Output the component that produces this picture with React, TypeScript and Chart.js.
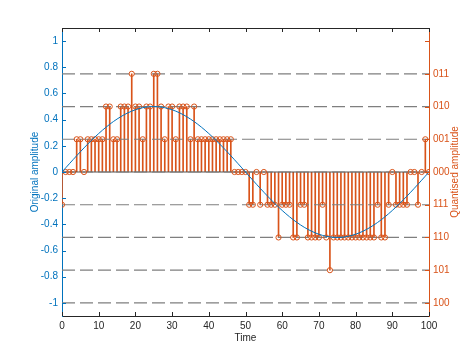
import { useEffect, useRef } from 'react';
import { Chart, registerables } from 'chart.js';

Chart.register(...registerables);

const FONT = "'Liberation Sans', Arial, Helvetica, sans-serif";
const BLUE = '#0072BD';
const ORANGE = '#D95319';
const DARK = '#262626';
const DASH = '#7f7f7f';

// sample index (time)
const times = Array.from({ length: 101 }, (_, i) => i);

// original (continuous) amplitude
const original = [
  0, 0.0314, 0.0627, 0.0937, 0.1243, 0.1545, 0.1841, 0.2129, 0.2409, 0.2679,
  0.2939, 0.3187, 0.3423, 0.3645, 0.3853, 0.4045, 0.4222, 0.4382, 0.4524, 0.4649,
  0.4755, 0.4843, 0.4911, 0.4961, 0.499, 0.5, 0.499, 0.4961, 0.4911, 0.4843,
  0.4755, 0.4649, 0.4524, 0.4382, 0.4222, 0.4045, 0.3853, 0.3645, 0.3423, 0.3187,
  0.2939, 0.2679, 0.2409, 0.2129, 0.1841, 0.1545, 0.1243, 0.0937, 0.0627, 0.0314,
  0, -0.0314, -0.0627, -0.0937, -0.1243, -0.1545, -0.1841, -0.2129, -0.2409, -0.2679,
  -0.2939, -0.3187, -0.3423, -0.3645, -0.3853, -0.4045, -0.4222, -0.4382, -0.4524, -0.4649,
  -0.4755, -0.4843, -0.4911, -0.4961, -0.499, -0.5, -0.499, -0.4961, -0.4911, -0.4843,
  -0.4755, -0.4649, -0.4524, -0.4382, -0.4222, -0.4045, -0.3853, -0.3645, -0.3423, -0.3187,
  -0.2939, -0.2679, -0.2409, -0.2129, -0.1841, -0.1545, -0.1243, -0.0937, -0.0627, -0.0314,
  0,
];

// quantised amplitude (stems)
const quantised = [
  -0.25, 0, 0, 0, 0.25, 0.25, 0, 0.25, 0.25, 0.25,
  0.25, 0.25, 0.5, 0.5, 0.25, 0.25, 0.5, 0.5, 0.5, 0.75,
  0.5, 0.5, 0.25, 0.5, 0.5, 0.75, 0.75, 0.5, 0.25, 0.5,
  0.5, 0.25, 0.5, 0.5, 0.5, 0.25, 0.5, 0.25, 0.25, 0.25,
  0.25, 0.25, 0.25, 0.25, 0.25, 0.25, 0.25, 0, 0, 0,
  0, -0.25, -0.25, 0, -0.25, 0, -0.25, -0.25, -0.25, -0.5,
  -0.25, -0.25, -0.25, -0.5, -0.5, -0.25, -0.25, -0.5, -0.5, -0.5,
  -0.5, -0.25, -0.5, -0.75, -0.5, -0.5, -0.5, -0.5, -0.5, -0.5,
  -0.5, -0.5, -0.5, -0.5, -0.5, -0.5, -0.25, -0.5, -0.5, -0.25,
  0, -0.25, -0.25, -0.25, -0.25, 0, 0, -0.25, 0, 0.25,
  0,
];

// dashed quantisation levels
const levels = [-1, -0.75, -0.5, -0.25, 0, 0.25, 0.5, 0.75];

const xTicks = [0, 10, 20, 30, 40, 50, 60, 70, 80, 90, 100];
const leftTicks = [-1, -0.8, -0.6, -0.4, -0.2, 0, 0.2, 0.4, 0.6, 0.8, 1];
const leftTickLabels = ['-1', '-0.8', '-0.6', '-0.4', '-0.2', '0', '0.2', '0.4', '0.6', '0.8', '1'];
const rightTicks = [-1, -0.75, -0.5, -0.25, 0, 0.25, 0.5, 0.75, 1];
const rightTickLabels = ['100', '101', '110', '111', '000', '001', '010', '011', ''];

const Y_MIN = -1.1;
const Y_MAX = 1.1;

const matlabPlugin = {
  id: 'matlabFrame',
  afterDraw(chart: any) {
    const { ctx, chartArea: a, scales } = chart;
    const r = (v: number) => Math.round(v) + 0.5;
    ctx.save();
    ctx.lineWidth = 1;
    // top border
    ctx.strokeStyle = DARK;
    ctx.beginPath();
    ctx.moveTo(a.left, r(a.top));
    ctx.lineTo(a.right, r(a.top));
    ctx.stroke();
    // x ticks (inward, bottom and top)
    ctx.beginPath();
    for (const v of xTicks) {
      const px = r(scales.x.getPixelForValue(v));
      ctx.moveTo(px, a.bottom);
      ctx.lineTo(px, a.bottom - 4);
      ctx.moveTo(px, a.top);
      ctx.lineTo(px, a.top + 4);
    }
    ctx.stroke();
    // left ticks
    ctx.strokeStyle = BLUE;
    ctx.beginPath();
    for (const v of leftTicks) {
      const py = r(scales.y.getPixelForValue(v));
      ctx.moveTo(a.left, py);
      ctx.lineTo(a.left + 4, py);
    }
    ctx.stroke();
    // right ticks
    ctx.strokeStyle = ORANGE;
    ctx.beginPath();
    for (const v of rightTicks) {
      const py = r(scales.y2.getPixelForValue(v));
      ctx.moveTo(a.right, py);
      ctx.lineTo(a.right - 4, py);
    }
    ctx.stroke();
    // right axis title, reading bottom to top
    ctx.translate(455, (a.top + a.bottom) / 2);
    ctx.rotate(-Math.PI / 2);
    ctx.fillStyle = ORANGE;
    ctx.font = `10px ${FONT}`;
    ctx.textAlign = 'center';
    ctx.textBaseline = 'middle';
    ctx.fillText('Quantised amplitude', 0, 0);
    ctx.restore();
  },
};

export default function App() {
  const ref = useRef<HTMLCanvasElement | null>(null);

  useEffect(() => {
    document.body.style.margin = '0';
    const canvas = ref.current;
    if (!canvas) return;

    const dashed = levels.map((l) => ({
      type: 'line' as const,
      data: [
        { x: 0, y: l },
        { x: 100, y: l },
      ],
      borderColor: DASH,
      borderWidth: 1.2,
      borderDash: [13, 5],
      pointRadius: 0,
      order: 2,
      yAxisID: 'y',
    }));

    const chart = new Chart(canvas, {
      type: 'line',
      data: {
        datasets: [
          {
            type: 'line',
            label: 'Original',
            data: times.map((t, i) => ({ x: t, y: original[i] })),
            borderColor: BLUE,
            borderWidth: 1,
            pointRadius: 0,
            order: 0,
            yAxisID: 'y',
          },
          {
            type: 'line',
            label: 'Markers',
            data: times.map((t, i) => ({ x: t, y: quantised[i] })),
            showLine: false,
            pointRadius: 2.6,
            pointBorderWidth: 1,
            pointBorderColor: ORANGE,
            pointBackgroundColor: 'rgba(0,0,0,0)',
            order: 1,
            yAxisID: 'y',
          },
          ...dashed,
          {
            type: 'line',
            label: 'Baseline',
            data: [
              { x: 0, y: 0 },
              { x: 100, y: 0 },
            ],
            borderColor: DARK,
            borderWidth: 0.8,
            pointRadius: 0,
            order: 3,
            yAxisID: 'y',
          },
          {
            type: 'bar',
            label: 'Stems',
            data: times.map((t, i) => ({ x: t, y: quantised[i] })),
            backgroundColor: ORANGE,
            borderWidth: 0,
            barThickness: 1,
            order: 4,
            yAxisID: 'y',
          },
        ] as any,
      },
      options: {
        animation: false,
        responsive: false,
        maintainAspectRatio: false,
        layout: { padding: { top: 28, left: 0, right: 0, bottom: 0 } },
        plugins: {
          legend: { display: false },
          tooltip: { enabled: false },
        },
        scales: {
          x: {
            type: 'linear',
            min: 0,
            max: 100,
            offset: false,
            afterBuildTicks: (s: any) => {
              s.ticks = xTicks.map((v) => ({ value: v }));
            },
            afterFit: (s: any) => {
              s.height = 39;
            },
            grid: { drawOnChartArea: false, drawTicks: false },
            border: { color: DARK, width: 1 },
            ticks: {
              color: DARK,
              font: { family: FONT, size: 10 },
              padding: 4,
              maxRotation: 0,
              autoSkip: false,
              callback: (v: any) => String(v),
            },
            title: {
              display: true,
              text: 'Time',
              color: DARK,
              font: { family: FONT, size: 10 },
              padding: { top: 0, bottom: 11 },
            },
          },
          y: {
            type: 'linear',
            position: 'left',
            min: Y_MIN,
            max: Y_MAX,
            afterBuildTicks: (s: any) => {
              s.ticks = leftTicks.map((v) => ({ value: v }));
            },
            afterFit: (s: any) => {
              s.width = 62;
            },
            grid: { drawOnChartArea: false, drawTicks: false },
            border: { color: BLUE, width: 1 },
            ticks: {
              color: BLUE,
              font: { family: FONT, size: 10 },
              padding: 4,
              autoSkip: false,
              callback: (v: any) => leftTickLabels[leftTicks.indexOf(Number(v))] ?? '',
            },
            title: {
              display: true,
              text: 'Original amplitude',
              color: BLUE,
              font: { family: FONT, size: 10 },
              padding: { top: 29, bottom: 0 },
            },
          },
          y2: {
            type: 'linear',
            position: 'right',
            min: Y_MIN,
            max: Y_MAX,
            afterBuildTicks: (s: any) => {
              s.ticks = rightTicks.map((v) => ({ value: v }));
            },
            afterFit: (s: any) => {
              s.width = 45;
            },
            grid: { drawOnChartArea: false, drawTicks: false },
            border: { color: ORANGE, width: 1 },
            ticks: {
              color: ORANGE,
              font: { family: FONT, size: 10 },
              padding: 4,
              autoSkip: false,
              callback: (v: any) => rightTickLabels[rightTicks.indexOf(Number(v))] ?? '',
            },
          },
        },
      } as any,
      plugins: [matlabPlugin],
    });

    return () => chart.destroy();
  }, []);

  return (
    <div style={{ width: 474, height: 355 }}>
      <canvas ref={ref} width={474} height={355} style={{ display: 'block' }} />
    </div>
  );
}
